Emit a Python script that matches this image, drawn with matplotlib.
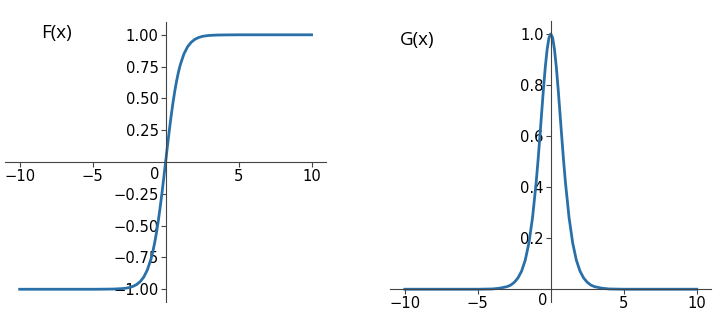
import matplotlib.pyplot as plt

# values
x_vals = [-10, -5, -4, -3.5, -3, -2.75, -2.5, -2.25, -2, -1.75, -1.5, -1.25, -1, -0.875, -0.75, -0.625,
          -0.5, -0.375, -0.25, -0.125, 0, 0.125, 0.25, 0.375, 0.5, 0.625, 0.75, 0.875, 1, 1.25, 1.5,
          1.75, 2, 2.25, 2.5, 2.75, 3, 3.5, 4, 5, 10]
f_vals = [-1.0, -1.0, -0.999, -0.998, -0.995, -0.992, -0.987, -0.978, -0.964, -0.941, -0.905, -0.848,
          -0.762, -0.704, -0.635, -0.555, -0.462, -0.358, -0.245, -0.124, 0.0, 0.124, 0.245, 0.358,
          0.462, 0.555, 0.635, 0.704, 0.762, 0.848, 0.905, 0.941, 0.964, 0.978, 0.987, 0.992, 0.995,
          0.998, 0.999, 1.0, 1.0]
g_vals = [0.0, 0.0, 0.001, 0.004, 0.010, 0.016, 0.027, 0.044, 0.071, 0.114, 0.181, 0.281, 0.420, 0.504,
          0.597, 0.692, 0.787, 0.872, 0.940, 0.985, 1.0, 0.985, 0.940, 0.872, 0.787, 0.692, 0.597, 0.504,
          0.420, 0.281, 0.181, 0.114, 0.071, 0.044, 0.027, 0.016, 0.010, 0.004, 0.001, 0.0, 0.0]

x_ticks = [-10, -5, 5, 10]
f_ticks = [-1.0, -0.75, -0.5, -0.25, 0.25, 0.5, 0.75, 1.0]
g_ticks = [0.2, 0.4, 0.6, 0.8, 1.0]


def centre_axes(ax):
    ax.spines["left"].set_position(("data", 0))
    ax.spines["bottom"].set_position(("data", 0))
    ax.spines["right"].set_visible(False)
    ax.spines["top"].set_visible(False)
    for s in ("left", "bottom"):
        ax.spines[s].set_color("#444444")
    ax.tick_params(labelsize=10.6, colors="#444444", labelcolor="black", pad=1.5)


fig = plt.figure(figsize=(7.2, 3.11), dpi=100)

ax1 = fig.add_axes([0.007, 0.029, 0.446, 0.9])
ax1.plot(x_vals, f_vals, color="#2a70a8", linewidth=2)
centre_axes(ax1)
ax1.set_xticks(x_ticks)
ax1.set_yticks(f_ticks)
ax1.set_yticklabels([f"{t:.2f}".replace("-", "\u2212") for t in f_ticks])
ax1.text(-0.45, -0.04, "0", ha="right", va="top", fontsize=10.6)
ax1.text(0.112, 0.962, "F(x)", transform=ax1.transAxes, fontsize=13.5,
         family=["Open Sans", "DejaVu Sans"], va="center")

ax2 = fig.add_axes([0.542, 0.029, 0.446, 0.903])
ax2.plot(x_vals, g_vals, color="#2a70a8", linewidth=2)
centre_axes(ax2)
ax2.set_xticks(x_ticks)
ax2.set_yticks(g_ticks)
ax2.text(-0.25, -0.016, "0", ha="right", va="top", fontsize=10.6)
ax2.text(0.03, 0.932, "G(x)", transform=ax2.transAxes, fontsize=13.5,
         family=["Open Sans", "DejaVu Sans"], va="center")

fig.savefig("out.png", dpi=100)
